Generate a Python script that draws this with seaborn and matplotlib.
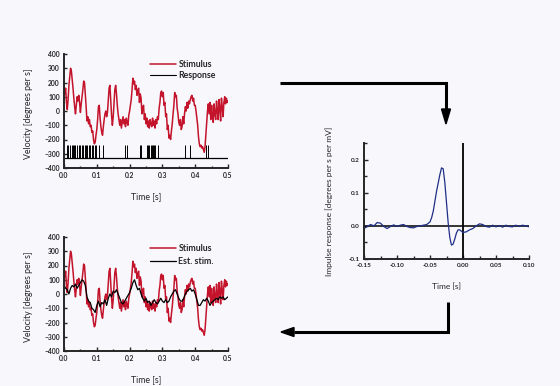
"""Stimulus / spike response / impulse response reconstruction figure."""

import matplotlib

matplotlib.use("Agg")
import matplotlib.pyplot as plt
import numpy as np
import pandas as pd
import seaborn as sns
from matplotlib.lines import Line2D
from matplotlib.patches import Polygon
from matplotlib.ticker import MultipleLocator, FormatStrFormatter

# ---- data ------------------------------------------------------------------
STIM_DT = 0.0025
stimulus = [
    190, 120, 160, 60, 10, 80, 180, 240, 300, 280, 220, 160, 90, 30, -20, 40, 100, 70, 110, 60,
    -10, 50, 100, 150, 210, 200, 120, 30, -70, -40, -90, -60, -110, -100, -150, -140, -200, -230, -220, -170,
    -130, -60, 30, 40, -50, -110, -150, -170, -110, -60, -20, 0, -40, -10, 80, 160, 180, 80, -30, -100,
    -40, 60, 150, 180, 120, 40, -20, -60, -100, -60, -120, -80, -40, -90, -60, -110, -50, -80, -100, -30,
    0, 40, 80, 150, 230, 190, 210, 150, 180, 110, 140, 160, 60, 120, 90, -20, 20, 40, -60, -20,
    -90, -50, -110, -70, -120, -60, -90, -110, -50, -100, -70, -120, -60, -90, -40, -60, 20, 60, 130, 140,
    100, 130, 40, 60, -40, -20, -130, -100, -190, -170, -200, -140, -90, -20, 40, 130, 100, 110, 20, -20,
    -80, -100, -60, -130, -110, -40, -90, -20, 30, 0, 60, 20, 70, 50, 80, 100, 110, 70, 90, 40,
    40, 0, -50, -100, -180, -230, -250, -240, -260, -250, -270, -290, -250, -170, -80, 0, 50, -20, 60, -60,
    40, -30, -80, 50, -20, -60, 70, 0, -60, 80, 20, -70, 90, 30, -40, 60, 100, 50, 90, 60, 70,
]

EST_DT = 0.005
est_stimulus = [
    60, 40, 30, 0, 40, 60, 50, 70, 40, 60,
    80, 100, 90, 60, -20, -50, -60, -100, -110, -130,
    -80, -50, -90, -60, -70, -40, -80, -30, 0, -20,
    20, 10, 30, 0, -30, -60, -70, -50, -30, -10,
    10, 40, 80, 100, 60, 30, 40, 0, -30, -50,
    -30, -60, -50, -80, -60, -40, -60, -70, -50, -30,
    -50, -60, -40, -60, -50, -20, 0, 20, 30, 0,
    -30, -50, -50, -30, 0, 20, 30, 40, 20, 30,
    0, -40, -80, -80, -60, -40, -50, -30, -50, -80,
    -60, -50, -40, -30, -40, -20, -30, -20, -40, -30, -20,
]

spike_times = [
    0.008, 0.013, 0.018, 0.023, 0.028, 0.030, 0.035, 0.041, 0.046, 0.049,
    0.054, 0.059, 0.063, 0.067, 0.071, 0.075, 0.079, 0.084, 0.089, 0.094,
    0.099, 0.108, 0.120, 0.186, 0.191, 0.231, 0.234, 0.252, 0.257, 0.260,
    0.264, 0.267, 0.270, 0.274, 0.278, 0.287, 0.368, 0.385, 0.434, 0.439,
]
SPIKE_LOW, SPIKE_HIGH = -330, -240

irf_time = [
    -0.15, -0.145, -0.14, -0.135, -0.13, -0.125, -0.12, -0.115, -0.11, -0.105,
    -0.10, -0.095, -0.09, -0.085, -0.08, -0.075, -0.07, -0.065, -0.06, -0.055,
    -0.05, -0.0475, -0.045, -0.0425, -0.04, -0.0375, -0.035, -0.0325, -0.03, -0.0275,
    -0.025, -0.0225, -0.02, -0.0175, -0.015, -0.0125, -0.01, -0.0075, -0.005, -0.0025,
    0.0, 0.005, 0.01, 0.015, 0.02, 0.025, 0.03, 0.035, 0.04, 0.045,
    0.05, 0.055, 0.06, 0.065, 0.07, 0.075, 0.08, 0.085, 0.09, 0.095, 0.10,
]
irf_value = [
    -0.008, -0.002, 0.004, 0.0, 0.010, 0.008, -0.002, -0.008, -0.002, 0.003,
    -0.002, 0.002, 0.004, -0.002, -0.005, -0.006, -0.002, 0.0, 0.002, 0.004,
    0.012, 0.025, 0.045, 0.075, 0.105, 0.130, 0.155, 0.175, 0.172, 0.130,
    0.070, 0.010, -0.035, -0.058, -0.055, -0.040, -0.022, -0.012, -0.012, -0.016,
    -0.020, -0.018, -0.012, -0.008, 0.0, 0.006, 0.004, -0.002, -0.004, 0.002,
    -0.003, 0.001, -0.004, 0.002, -0.002, -0.003, 0.002, -0.002, 0.002, 0.0, -0.003,
]

# ---- style -------------------------------------------------------------------
BG = "#f7f7fc"
RED = "#c4142c"
BLUE = "#1f2f86"
W, H = 560, 386
LABEL_FS = 6.3
TICK_FS = 4.9
LEGEND_FS = 6.3

sns.set_style("ticks")
plt.rcParams["font.family"] = ["Lato", "DejaVu Sans"]
plt.rcParams["font.weight"] = "bold"

stim_df = pd.DataFrame({"t": np.arange(len(stimulus)) * STIM_DT, "v": stimulus})
est_df = pd.DataFrame({"t": np.arange(len(est_stimulus)) * EST_DT, "v": est_stimulus})
irf_df = pd.DataFrame({"t": irf_time, "v": irf_value})

fig = plt.figure(figsize=(W / 100, H / 100), dpi=100, facecolor=BG)


def px_axes(left, top, right, bottom):
    return fig.add_axes(
        [left / W, 1 - bottom / H, (right - left) / W, (bottom - top) / H],
        facecolor="none",
    )


def style_axes(ax, label_fs=LABEL_FS, tick_fs=TICK_FS):
    sns.despine(ax=ax)
    for s in ("left", "bottom"):
        ax.spines[s].set_linewidth(1.4)
    ax.tick_params(which="both", direction="in", width=1.0, labelsize=tick_fs, pad=3)
    ax.tick_params(which="major", length=3.0)
    ax.tick_params(which="minor", length=1.8)
    ax.xaxis.label.set_fontsize(label_fs)
    ax.yaxis.label.set_fontsize(label_fs)


def velocity_panel(ax, second_df=None):
    sns.lineplot(data=stim_df, x="t", y="v", ax=ax, color=RED, lw=1.1)
    if second_df is not None:
        sns.lineplot(data=second_df, x="t", y="v", ax=ax, color="black", lw=0.9)
    ax.set_xlim(0, 0.5)
    ax.set_ylim(-400, 400)
    ax.xaxis.set_major_locator(MultipleLocator(0.1))
    ax.xaxis.set_minor_locator(MultipleLocator(0.05))
    ax.xaxis.set_major_formatter(FormatStrFormatter("%.1f"))
    ax.yaxis.set_major_locator(MultipleLocator(100))
    ax.set_xlabel("Time [s]")
    ax.set_ylabel("Velocity [degrees per s]")
    style_axes(ax)
    ax.tick_params(axis="y", which="major", length=2.5)
    ax.xaxis.set_label_coords(0.5, -0.21)
    ax.yaxis.set_label_coords(-0.19, 0.48)


# top-left: stimulus + spike train
ax1 = px_axes(64, 54, 228, 168)
velocity_panel(ax1)
ax1.vlines(spike_times, SPIKE_LOW, SPIKE_HIGH, color="black", lw=0.7)
ax1.hlines(SPIKE_LOW, 0, 0.5, color="black", lw=0.9)
handles = [Line2D([], [], color=RED, lw=1.1), Line2D([], [], color="black", lw=0.8)]
ax1.legend(handles, ["Stimulus", "Response"], loc="upper left", bbox_to_anchor=(0.5, 0.975),
           frameon=False, fontsize=LEGEND_FS, handlelength=3.0, handletextpad=0.3,
           labelspacing=0.15, borderaxespad=0)

# bottom-left: stimulus + estimated stimulus
ax2 = px_axes(64, 237, 228, 351)
velocity_panel(ax2, est_df)
handles = [Line2D([], [], color=RED, lw=1.1), Line2D([], [], color="black", lw=0.9)]
ax2.legend(handles, ["Stimulus", "Est. stim."], loc="upper left",
           bbox_to_anchor=(0.5, 0.97), frameon=False, fontsize=LEGEND_FS, handlelength=3.0,
           handletextpad=0.3, labelspacing=0.45, borderaxespad=0)

# right: impulse response
ax3 = px_axes(364, 143, 529, 259)
ax3.axhline(0, color="black", lw=1.1)
ax3.axvline(0, color="black", lw=1.3)
sns.lineplot(data=irf_df, x="t", y="v", ax=ax3, color=BLUE, lw=0.9)
ax3.set_xlim(-0.15, 0.10)
ax3.set_ylim(-0.1, 0.25)
ax3.xaxis.set_major_locator(MultipleLocator(0.05))
ax3.xaxis.set_minor_locator(MultipleLocator(0.025))
ax3.xaxis.set_major_formatter(FormatStrFormatter("%.2f"))
ax3.yaxis.set_major_locator(MultipleLocator(0.1))
ax3.yaxis.set_minor_locator(MultipleLocator(0.05))
ax3.yaxis.set_major_formatter(FormatStrFormatter("%.1f"))
ax3.set_xlabel("Time [s]")
ax3.set_ylabel("Impulse response [degrees per s per mV]")
style_axes(ax3, label_fs=6.0, tick_fs=4.6)
ax3.tick_params(which="minor", length=2.5)
ax3.xaxis.set_label_coords(0.5, -0.207)
ax3.yaxis.set_label_coords(-0.188, 0.5)


# ---- connector arrows (figure pixel layout) -----------------------------------
def fx(x):
    return x / W


def fy(y):
    return 1 - y / H


def arrow(points, tip, base_half, direction):
    xs = [fx(p[0]) for p in points]
    ys = [fy(p[1]) for p in points]
    fig.add_artist(Line2D(xs, ys, color="black", lw=2.2, solid_capstyle="butt",
                          solid_joinstyle="miter", transform=fig.transFigure))
    tx, ty = tip
    bx, by = points[-1]
    if direction == "down":
        tri = [(bx - base_half, by), (bx + base_half, by), (tx, ty)]
    else:
        tri = [(bx, by - base_half), (bx, by + base_half), (tx, ty)]
    fig.add_artist(Polygon([(fx(a), fy(b)) for a, b in tri], closed=True, color="black",
                           transform=fig.transFigure))


arrow([(280, 83), (446, 83), (446, 109)], (446, 124), 4.5, "down")
arrow([(448, 302), (448, 332), (294, 332)], (281, 332), 4.5, "left")

fig.savefig("out.png", dpi=100, facecolor=BG)
